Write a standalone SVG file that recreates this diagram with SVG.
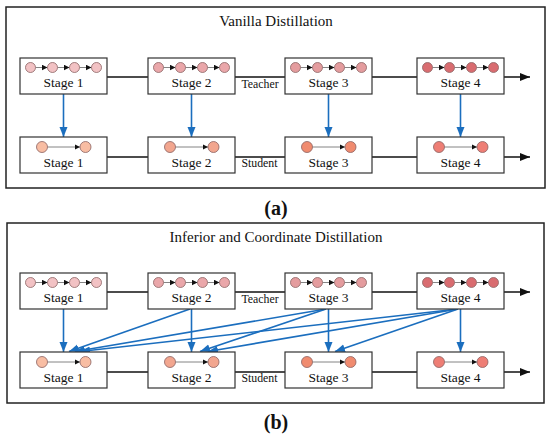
<svg xmlns="http://www.w3.org/2000/svg" xmlns:xlink="http://www.w3.org/1999/xlink" width="550" height="444" viewBox="0 0 550 444" font-family="'Liberation Serif', 'DejaVu Serif', serif">
<style>
.frame{fill:none;stroke:#222;stroke-width:1.5}
.box{fill:#fff;stroke:#333;stroke-width:1.2}
text{font-family:'Liberation Serif','DejaVu Serif',serif;fill:#111;text-anchor:middle}
.lbl{font-size:13.5px}
.side{font-size:11.8px}
.title{font-size:15px}
.cap{font-size:20px;font-weight:bold}
.link{stroke:#111;stroke-width:1.5;fill:none}
.blue{stroke:#1B6EBE;stroke-width:1.6;fill:none}
.c{stroke:#8a6262;stroke-width:0.8}
.cl{stroke:#777;stroke-width:0.9}
</style>
<defs>
<marker id="mb" markerUnits="userSpaceOnUse" markerWidth="11" markerHeight="9" refX="10" refY="4" orient="auto"><path d="M0,0 L10,4 L0,8 z" fill="#1B6EBE"/></marker>
<marker id="mk" markerUnits="userSpaceOnUse" markerWidth="11" markerHeight="9" refX="10" refY="4" orient="auto"><path d="M0,0 L10,4 L0,8 z" fill="#111"/></marker>
<marker id="ms" markerUnits="userSpaceOnUse" markerWidth="6" markerHeight="6" refX="5.5" refY="2.75" orient="auto"><path d="M0,0 L5.5,2.75 L0,5.5 z" fill="#111"/></marker>
<g id="tc">
<line class="cl" x1="-28" y1="0" x2="-16" y2="0" marker-end="url(#ms)"/>
<line class="cl" x1="-6" y1="0" x2="6" y2="0" marker-end="url(#ms)"/>
<line class="cl" x1="16" y1="0" x2="28" y2="0" marker-end="url(#ms)"/>
<circle class="c" cx="-33" cy="0" r="5"/>
<circle class="c" cx="-11" cy="0" r="5"/>
<circle class="c" cx="11" cy="0" r="5"/>
<circle class="c" cx="33" cy="0" r="5"/>
</g>
<g id="sc">
<line class="cl" x1="-16" y1="0" x2="16.5" y2="0" marker-end="url(#ms)"/>
<circle class="c" cx="-21.5" cy="0" r="5.5"/>
<circle class="c" cx="22" cy="0" r="5.5"/>
</g>
</defs>
<rect width="550" height="444" fill="#fff"/>

<!-- Panel (a) -->
<rect class="frame" x="6" y="7" width="539" height="181"/>
<text class="title" x="276" y="26">Vanilla Distillation</text>
<g id="connectors-a">
<line class="link" x1="107" y1="77" x2="148" y2="77"/>
<line class="link" x1="235" y1="77" x2="285" y2="77"/>
<line class="link" x1="372" y1="77" x2="417" y2="77"/>
<line class="link" x1="504" y1="77" x2="530" y2="77" marker-end="url(#mk)"/>
<line class="link" x1="107" y1="157" x2="148" y2="157"/>
<line class="link" x1="235" y1="157" x2="285" y2="157"/>
<line class="link" x1="372" y1="157" x2="417" y2="157"/>
<line class="link" x1="504" y1="157" x2="530" y2="157" marker-end="url(#mk)"/>
<line class="blue" x1="63.5" y1="94" x2="63.5" y2="137" marker-end="url(#mb)"/>
<line class="blue" x1="191.5" y1="94" x2="191.5" y2="137" marker-end="url(#mb)"/>
<line class="blue" x1="328.5" y1="94" x2="328.5" y2="137" marker-end="url(#mb)"/>
<line class="blue" x1="460.5" y1="94" x2="460.5" y2="137" marker-end="url(#mb)"/>
</g>
<text class="side" x="260" y="88">Teacher</text>
<text class="side" x="259.5" y="167">Student</text>
<g id="a-t1"><rect class="box" x="20" y="58" width="87" height="36"/><use xlink:href="#tc" x="63.5" y="67.5" fill="#F2C2C4"/><text class="lbl" x="63.5" y="87">Stage 1</text></g>
<g id="a-t2"><rect class="box" x="148" y="58" width="87" height="36"/><use xlink:href="#tc" x="191.5" y="67.5" fill="#EAA7AA"/><text class="lbl" x="191.5" y="87">Stage 2</text></g>
<g id="a-t3"><rect class="box" x="285" y="58" width="87" height="36"/><use xlink:href="#tc" x="328.5" y="67.5" fill="#E49C9E"/><text class="lbl" x="328.5" y="87">Stage 3</text></g>
<g id="a-t4"><rect class="box" x="417" y="58" width="87" height="36"/><use xlink:href="#tc" x="460.5" y="67.5" fill="#D96C70"/><text class="lbl" x="460.5" y="87">Stage 4</text></g>
<g id="a-s1"><rect class="box" x="20" y="137" width="87" height="36"/><use xlink:href="#sc" x="63.5" y="147" fill="#F8BDA3"/><text class="lbl" x="63.5" y="167">Stage 1</text></g>
<g id="a-s2"><rect class="box" x="148" y="137" width="87" height="36"/><use xlink:href="#sc" x="191.5" y="147" fill="#F2A68F"/><text class="lbl" x="191.5" y="167">Stage 2</text></g>
<g id="a-s3"><rect class="box" x="285" y="137" width="87" height="36"/><use xlink:href="#sc" x="328.5" y="147" fill="#F08B6F"/><text class="lbl" x="328.5" y="167">Stage 3</text></g>
<g id="a-s4"><rect class="box" x="417" y="137" width="87" height="36"/><use xlink:href="#sc" x="460.5" y="147" fill="#EE7E75"/><text class="lbl" x="460.5" y="167">Stage 4</text></g>
<text class="cap" x="276" y="215">(a)</text>

<!-- Panel (b) -->
<rect class="frame" x="7" y="223" width="537" height="180"/>
<text class="title" x="276" y="242">Inferior and Coordinate Distillation</text>
<g id="connectors-b">
<line class="link" x1="107" y1="292" x2="148" y2="292"/>
<line class="link" x1="235" y1="292" x2="285" y2="292"/>
<line class="link" x1="372" y1="292" x2="417" y2="292"/>
<line class="link" x1="504" y1="292" x2="530" y2="292" marker-end="url(#mk)"/>
<line class="link" x1="107" y1="372" x2="148" y2="372"/>
<line class="link" x1="235" y1="372" x2="285" y2="372"/>
<line class="link" x1="372" y1="372" x2="417" y2="372"/>
<line class="link" x1="504" y1="372" x2="530" y2="372" marker-end="url(#mk)"/>
<line class="blue" x1="63.5" y1="309" x2="63.5" y2="352" marker-end="url(#mb)"/>
<line class="blue" x1="191.5" y1="309" x2="191.5" y2="352" marker-end="url(#mb)"/>
<line class="blue" x1="328.5" y1="309" x2="328.5" y2="352" marker-end="url(#mb)"/>
<line class="blue" x1="460.5" y1="309" x2="460.5" y2="352" marker-end="url(#mb)"/>
<line class="blue" x1="190" y1="309" x2="69" y2="351.5" marker-end="url(#mb)"/>
<line class="blue" x1="326" y1="309" x2="75" y2="351.5" marker-end="url(#mb)"/>
<line class="blue" x1="458" y1="309" x2="80" y2="351.5" marker-end="url(#mb)"/>
<line class="blue" x1="326" y1="309" x2="200" y2="351.5" marker-end="url(#mb)"/>
<line class="blue" x1="458" y1="309" x2="208" y2="351.5" marker-end="url(#mb)"/>
<line class="blue" x1="458" y1="309" x2="335" y2="351.5" marker-end="url(#mb)"/>
</g>
<text class="side" x="260" y="303">Teacher</text>
<text class="side" x="259.5" y="382">Student</text>
<g id="b-t1"><rect class="box" x="20" y="273" width="87" height="36"/><use xlink:href="#tc" x="63.5" y="282.5" fill="#F2C2C4"/><text class="lbl" x="63.5" y="302">Stage 1</text></g>
<g id="b-t2"><rect class="box" x="148" y="273" width="87" height="36"/><use xlink:href="#tc" x="191.5" y="282.5" fill="#EAA7AA"/><text class="lbl" x="191.5" y="302">Stage 2</text></g>
<g id="b-t3"><rect class="box" x="285" y="273" width="87" height="36"/><use xlink:href="#tc" x="328.5" y="282.5" fill="#E49C9E"/><text class="lbl" x="328.5" y="302">Stage 3</text></g>
<g id="b-t4"><rect class="box" x="417" y="273" width="87" height="36"/><use xlink:href="#tc" x="460.5" y="282.5" fill="#D96C70"/><text class="lbl" x="460.5" y="302">Stage 4</text></g>
<g id="b-s1"><rect class="box" x="20" y="352" width="87" height="36"/><use xlink:href="#sc" x="63.5" y="362" fill="#F8BDA3"/><text class="lbl" x="63.5" y="382">Stage 1</text></g>
<g id="b-s2"><rect class="box" x="148" y="352" width="87" height="36"/><use xlink:href="#sc" x="191.5" y="362" fill="#F2A68F"/><text class="lbl" x="191.5" y="382">Stage 2</text></g>
<g id="b-s3"><rect class="box" x="285" y="352" width="87" height="36"/><use xlink:href="#sc" x="328.5" y="362" fill="#F08B6F"/><text class="lbl" x="328.5" y="382">Stage 3</text></g>
<g id="b-s4"><rect class="box" x="417" y="352" width="87" height="36"/><use xlink:href="#sc" x="460.5" y="362" fill="#EE7E75"/><text class="lbl" x="460.5" y="382">Stage 4</text></g>
<text class="cap" x="276" y="429">(b)</text>
</svg>
